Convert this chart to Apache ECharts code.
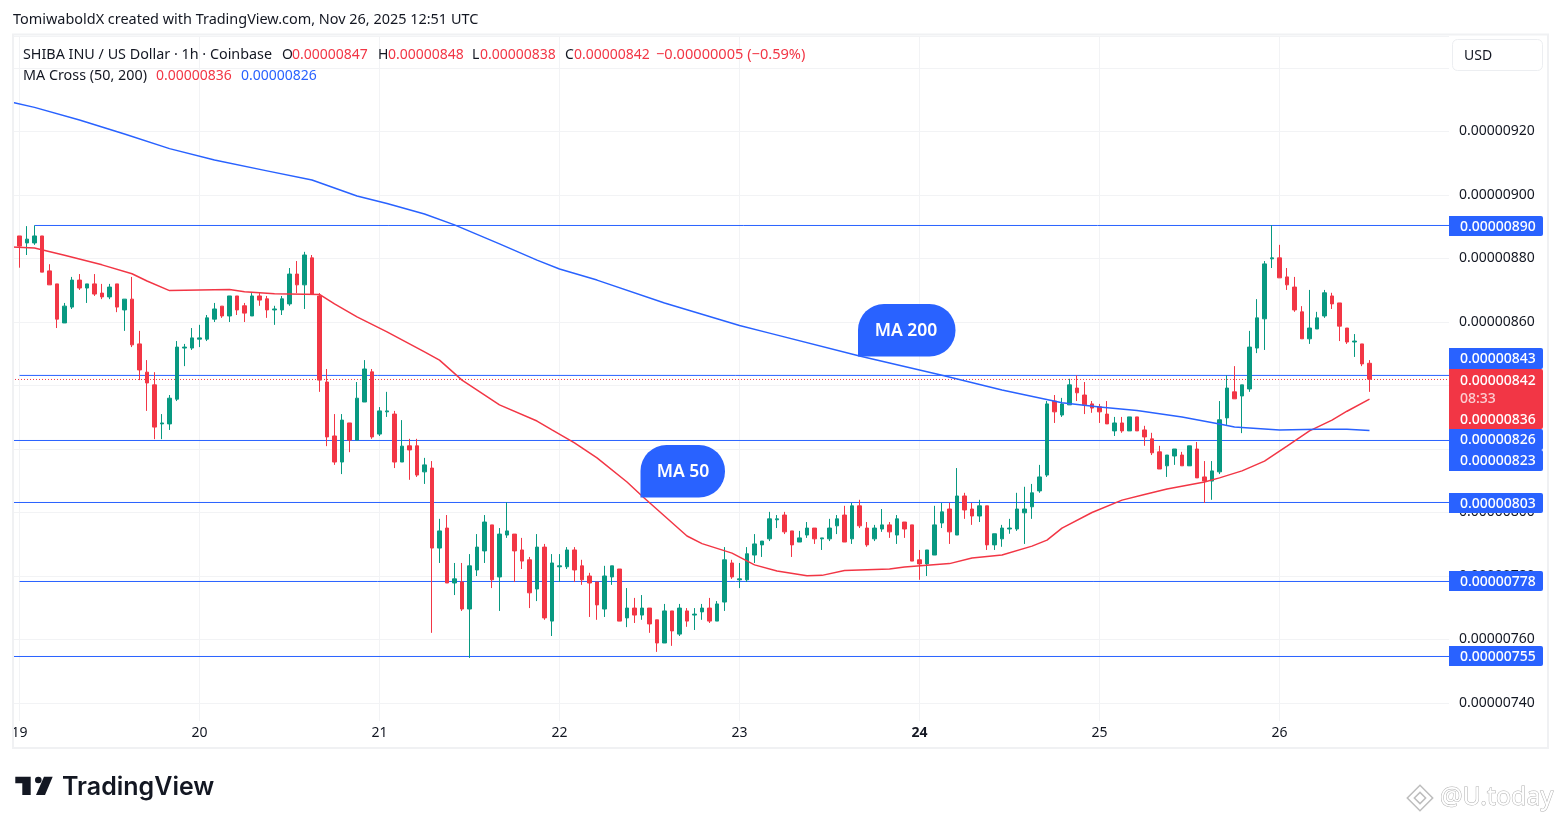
<!DOCTYPE html>
<html>
<head>
<meta charset="utf-8">
<title>SHIBA INU / US Dollar</title>
<script src="https://cdn.jsdelivr.net/npm/echarts@6/dist/echarts.min.js"></script>
<style>
  html, body { margin: 0; padding: 0; background: #fff; }
  #chart { width: 1561px; height: 824px; }
</style>
</head>
<body>
<div id="chart"></div>
<script>
// all prices are in units of 0.00000001 USD, one bar per hour
const opens = [
  890.2,887.1,884.9,884.9,887.1,876.1,872.0,859.7,864.7,873.2,
  870.7,872.0,869.1,867.9,872.0,863.8,867.2,853.1,844.2,840.2,
  827.9,827.9,835.7,851.8,851.8,854.6,854.6,860.9,865.0,861.9,
  868.2,865.1,861.9,868.2,867.3,863.8,863.8,865.7,875.1,871.7,
  880.2,868.2,841.1,824.1,815.9,828.2,822.8,834.8,844.3,824.7,
  831.7,831.0,815.9,821.0,821.0,812.8,814.0,788.8,795.1,777.8,
  778.1,769.6,781.9,787.9,796.1,779.7,792.9,793.2,788.2,785.1,
  775.9,789.1,765.8,782.9,782.9,788.2,783.2,780.0,778.1,769.6,
  779.7,782.2,766.8,769.9,767.7,769.9,766.2,758.9,769.0,761.7,
  769.0,767.7,768.7,769.9,765.8,771.8,784.1,778.8,778.8,786.6,
  789.8,791.7,797.7,799.2,794.2,790.7,792.9,795.1,791.7,791.7,
  795.8,799.2,791.7,802.1,795.1,791.7,794.8,796.1,792.9,797.0,
  796.1,785.1,783.8,786.6,796.7,801.1,792.9,805.2,801.1,798.9,
  802.1,789.8,791.7,794.8,794.8,799.9,801.8,806.8,811.8,835.1,
  830.7,833.9,839.2,837.0,834.2,833.3,831.0,825.7,828.2,825.7,
  830.1,826.0,823.2,819.1,814.7,817.8,818.1,814.7,820.0,811.2,
  809.9,812.8,829.8,838.0,836.7,838.9,851.8,861.0,879.9,880.2,
  874.2,871.0,863.2,854.7,857.8,861.9,868.2,866.0,858.1,853.7,
  853.1,847.0
];
const closes = [
  886.9,883.9,886.1,887.1,875.7,871.7,860.9,865.0,873.2,870.7,
  872.0,868.8,867.9,871.0,864.7,867.2,852.8,844.9,840.8,826.9,
  828.2,836.0,852.1,852.1,855.0,855.0,861.3,864.1,861.9,868.2,
  863.8,862.8,868.2,866.9,863.8,864.1,867.3,875.1,871.7,881.1,
  868.8,841.7,823.8,815.9,829.1,822.8,836.0,845.2,823.8,832.0,
  832.0,815.9,820.9,819.7,811.8,815.0,788.8,794.2,777.8,779.1,
  769.6,783.2,789.1,797.0,778.8,793.2,794.2,787.9,784.7,774.7,
  789.1,766.8,784.1,783.2,788.2,781.9,778.8,777.8,770.9,780.0,
  783.2,765.8,769.9,767.7,769.9,764.9,758.9,769.0,762.7,769.9,
  765.8,768.0,769.9,765.8,771.2,785.1,779.7,779.1,787.0,790.1,
  791.0,798.0,798.0,793.9,789.8,792.0,795.1,791.7,792.0,795.1,
  798.0,790.7,802.1,795.8,789.8,795.1,796.1,793.9,798.0,794.8,
  784.7,783.8,788.2,796.1,800.2,793.9,805.2,800.8,798.9,802.1,
  789.8,793.3,795.1,795.1,801.1,801.1,806.2,811.2,834.2,831.7,
  834.2,840.2,837.7,833.9,832.9,831.7,827.9,828.2,825.7,830.1,
  825.7,823.8,818.8,813.7,818.1,820.0,814.7,821.0,810.9,809.9,
  813.1,829.2,839.2,835.8,840.2,852.1,861.3,878.3,880.2,873.9,
  871.7,863.8,854.7,858.1,861.3,869.2,865.7,858.7,853.7,854.0,
  846.8,842.0
];
const highs = [
  890.2,887.1,890.2,890.4,887.1,878.2,872.0,866.0,874.2,875.1,
  872.0,875.1,872.0,872.0,872.0,867.2,874.2,857.2,848.0,844.2,
  831.0,837.0,854.0,853.1,858.1,859.1,862.2,866.0,865.0,868.2,
  868.2,866.0,869.1,869.1,868.2,865.1,868.2,877.0,879.2,882.1,
  881.1,869.1,845.2,831.0,831.0,828.2,841.1,848.0,845.2,833.2,
  838.0,832.0,829.1,823.2,823.2,817.2,816.2,798.0,799.2,784.1,
  784.1,786.9,793.2,799.2,796.1,795.1,803.2,793.2,792.0,786.0,
  793.2,790.1,786.9,786.9,789.1,789.1,785.1,781.0,778.1,783.2,
  783.2,782.2,776.2,773.1,774.0,769.9,766.2,771.2,769.0,771.2,
  769.9,769.9,771.2,773.1,772.1,789.1,785.1,784.1,789.1,793.2,
  791.0,800.2,799.2,800.2,794.2,794.2,797.0,795.1,792.0,798.0,
  799.2,802.1,803.0,804.0,797.0,796.1,801.1,797.0,799.2,797.0,
  796.1,788.2,788.2,802.1,803.0,803.0,814.0,806.2,803.0,804.0,
  802.1,793.3,796.1,798.0,806.2,808.1,809.0,815.0,835.1,837.0,
  836.1,842.1,843.2,841.1,835.1,834.2,835.1,830.1,830.1,830.1,
  830.1,827.3,825.1,821.0,818.1,820.0,819.1,821.0,822.2,816.2,
  816.2,835.1,843.2,846.1,840.2,857.2,867.2,879.2,890.5,884.3,
  877.0,874.2,865.0,870.1,863.2,870.1,869.2,866.0,858.1,856.2,
  853.1,848.0
];
const lows = [
  886.9,877.1,881.1,884.3,875.7,871.7,858.1,859.7,864.1,870.1,
  866.0,868.2,867.2,867.2,863.1,857.2,852.1,841.7,832.0,823.1,
  823.1,826.0,835.1,846.1,851.2,852.1,854.0,860.0,861.3,860.0,
  862.2,860.0,861.9,865.1,861.3,859.1,862.2,865.1,869.1,864.1,
  868.5,838.0,820.9,815.0,812.1,819.0,822.8,834.8,823.2,824.1,
  830.1,814.0,815.9,810.3,811.2,809.0,762.1,784.1,777.8,774.0,
  769.0,754.2,780.0,784.1,776.2,769.0,792.0,778.1,782.2,769.9,
  772.1,766.2,761.1,778.1,782.2,778.1,777.2,767.1,766.2,767.1,
  777.2,765.8,763.9,765.2,766.2,762.1,756.1,758.9,758.0,761.1,
  764.0,763.0,766.2,765.2,765.8,769.0,779.1,776.2,778.1,784.1,
  786.0,791.0,795.1,793.2,786.0,790.7,792.0,790.1,788.2,791.0,
  793.2,790.7,790.1,795.1,789.2,791.0,793.9,792.0,790.1,792.0,
  784.7,778.8,780.0,786.6,795.1,790.1,792.9,798.0,796.1,797.0,
  788.2,788.2,789.2,793.3,794.2,790.1,798.0,806.2,811.2,828.2,
  830.1,833.9,835.1,831.0,831.4,828.2,827.9,824.1,825.1,825.7,
  825.7,821.0,818.1,813.7,811.2,815.0,814.7,814.7,810.9,803.0,
  804.0,812.1,827.6,835.8,825.0,838.0,850.2,851.2,877.0,873.9,
  870.1,863.2,854.7,853.1,857.8,861.3,864.1,854.0,853.1,849.0,
  846.1,838.0
];

const ma50Bars = [0,3,7,12,16,18,21,29,31,35,41,43,46,50,55,57,60,65,70,72,75,78,82,84,87,90,92,96,99,102,106,108,111,117,119,125,128,132,136,138,140,144,148,151,154,159,161,164,167,170,173,176,178,181];
const ma50Values = [883.6,883.3,881.0,878.0,875.2,872.9,869.9,870.2,869.5,868.9,868.7,865.7,861.6,856.9,850.6,848.0,841.7,833.9,828.8,826.0,821.9,817.2,809.6,805.2,798.9,792.6,790.2,787.2,783.5,781.6,780.1,780.2,781.7,782.2,782.8,783.9,785.7,786.6,789.4,791.3,795.1,800.0,803.9,805.7,807.4,809.6,810.9,813.1,816.2,820.9,825.7,829.1,831.9,835.7];
const ma200Bars = [0,3,9,15,21,27,34,40,46,50,55,59,65,70,73,78,87,97,101,113,124,132,140,145,150,156,161,163,169,174,178,181];
const ma200Values = [929.2,927.6,923.6,919.2,914.6,911.0,907.6,904.7,899.7,897.3,894.0,890.6,884.6,879.5,876.7,873.2,866.0,858.9,856.5,849.3,843.2,838.6,834.6,833.2,832.1,830.1,827.9,826.9,826.0,826.2,826.2,825.8];

// horizontal levels drawn on the chart and the bar each one starts at
const levelValues = [890.4, 843.17, 822.68, 803.15, 778.27, 754.65];
const levelStartBars = [3, 1, 0, 0, 1, 0];
const lastPrice = 841.9;

const priceTickLabels = ['0.00000740','0.00000760','0.00000780','0.00000800','0.00000820','0.00000840','0.00000860','0.00000880','0.00000900','0.00000920'];
const dayLabels = ['19','20','21','22','23','24','25','26'];

const BAR_SLOTS = 193;
const FONT = '"Noto Sans", sans-serif';
const RED = '#f23645', GREEN = '#089981', BLUE = '#2962ff', INK = '#131722', GRID = '#f2f3f5';

const categories = [];
for (let i = 0; i < BAR_SLOTS; i++) {
  const h = i - 1;
  categories.push('Nov ' + (19 + Math.floor(h / 24)) + ' ' + ((h % 24 + 24) % 24) + ':00');
}
const isDayTick = i => (i - 1) % 24 === 0;

const candles = opens.map((o, i) => [o, closes[i], lows[i], highs[i]]);
const pairs = (bars, values) => bars.map((b, i) => [b, values[i]]);

const levelSeries = levelValues.map((v, i) => ({
  type: 'line', xAxisIndex: 1, yAxisIndex: 1, z: 1, symbol: 'none', silent: true,
  lineStyle: { color: BLUE, width: 1 },
  data: [[levelStartBars[i], v], [BAR_SLOTS - 1, v]]
}));

// price tags in the right hand scale
const TAG_X = 1449, TAG_W = 94;
const blueTags = [
  ['0.00000890', 216, 20], ['0.00000843', 348, 21], ['0.00000826', 429, 21],
  ['0.00000823', 450, 21], ['0.00000803', 493, 20], ['0.00000778', 571, 20], ['0.00000755', 646, 20]
];
const tagText = (s, y, fill) => ({
  type: 'text', z: 21, x: 1460, y: y + 1, style: { text: s, fill: fill || '#fff', font: '500 14px ' + FONT, verticalAlign: 'middle' }
});
const plainText = (s, x, y, fill, size) => ({
  type: 'text', z: 21, x, y: y + 1, style: { text: s, fill, font: (size || 14) + 'px ' + FONT, verticalAlign: 'middle' }
});

const graphics = [
  { type: 'rect', z: 5, shape: { x: 0, y: 30, width: 13, height: 700 }, style: { fill: '#fff' } },
  { type: 'rect', z: 5, shape: { x: 1449, y: 30, width: 4, height: 700 }, style: { fill: '#fff' } },
  { type: 'rect', z: 6, shape: { x: 13, y: 34.5, width: 1535, height: 713.5 }, style: { fill: 'none', stroke: '#f0f1f3', lineWidth: 2 } },
  plainText('TomiwaboldX created with TradingView.com, Nov 26, 2025 12:51 UTC', 13, 19, INK, 14.45),
  plainText('SHIBA INU / US Dollar · 1h · Coinbase', 23, 54, INK, 14.35),
  plainText('O', 282, 54, INK), plainText('0.00000847', 292, 54, RED),
  plainText('H', 378, 54, INK), plainText('0.00000848', 388, 54, RED),
  plainText('L', 472, 54, INK), plainText('0.00000838', 480, 54, RED),
  plainText('C', 565, 54, INK), plainText('0.00000842', 574, 54, RED),
  plainText('−0.00000005 (−0.59%)', 656, 54, RED, 14.6),
  plainText('MA Cross (50, 200)', 23, 75, INK, 14.35),
  plainText('0.00000836', 156, 75, RED), plainText('0.00000826', 241, 75, BLUE),
  { type: 'rect', z: 20, shape: { x: 1452.5, y: 39.5, width: 90, height: 31, r: 5 }, style: { fill: '#fff', stroke: '#eceef1' } },
  plainText('USD', 1464, 55, INK),
  { type: 'rect', z: 20, shape: { x: TAG_X, y: 369, width: TAG_W, height: 60, r: [0, 2, 2, 0] }, style: { fill: RED } },
  tagText('0.00000842', 380), tagText('08:33', 398, 'rgba(255,255,255,0.75)'), tagText('0.00000836', 419),
  { type: 'rect', z: 20, shape: { x: 858, y: 304, width: 97.5, height: 52.5, r: [26, 26, 26, 0] }, style: { fill: BLUE } },
  { type: 'text', z: 21, x: 906, y: 331, style: { text: 'MA 200', fill: '#fff', font: '600 17.5px ' + FONT, align: 'center', verticalAlign: 'middle' } },
  { type: 'rect', z: 20, shape: { x: 640.5, y: 445, width: 84.5, height: 52.5, r: [26, 26, 26, 0] }, style: { fill: BLUE } },
  { type: 'text', z: 21, x: 683, y: 472, style: { text: 'MA 50', fill: '#fff', font: '600 17.5px ' + FONT, align: 'center', verticalAlign: 'middle' } },
  // TradingView logo
  { type: 'polygon', z: 20, shape: { points: [[15.3,776.7],[30.7,776.7],[30.7,795],[22.3,795],[22.3,783.3],[15.3,783.3]] }, style: { fill: INK } },
  { type: 'circle', z: 20, shape: { cx: 38.3, cy: 780, r: 3.3 }, style: { fill: INK } },
  { type: 'polygon', z: 20, shape: { points: [[44,776.7],[52.7,776.7],[45,795],[36,795]] }, style: { fill: INK } },
  { type: 'text', z: 21, x: 62, y: 787, style: { text: 'TradingView', fill: INK, font: '600 25px Inter, sans-serif', verticalAlign: 'middle' } },
  // watermark
  { type: 'rect', z: 20, rotation: Math.PI / 4, x: 1420, y: 798, shape: { x: -9, y: -9, width: 18, height: 18 }, style: { fill: 'none', stroke: '#bdbdbd', lineWidth: 1.5 } },
  { type: 'rect', z: 20, rotation: Math.PI / 4, x: 1420, y: 798, shape: { x: -4, y: -4, width: 8, height: 8 }, style: { fill: 'none', stroke: '#bdbdbd', lineWidth: 1.5 } },
  { type: 'text', z: 21, x: 1440, y: 798, style: { text: '@U.today', fill: '#fff', stroke: '#b0b0b0', lineWidth: 1, font: '25px ' + FONT, verticalAlign: 'middle' } }
];
blueTags.forEach(t => {
  graphics.push({ type: 'rect', z: 20, shape: { x: TAG_X, y: t[1], width: TAG_W, height: t[2], r: [0, 2, 2, 0] }, style: { fill: BLUE } });
  graphics.push(tagText(t[0], t[1] + t[2] / 2));
});

const chart = echarts.init(document.getElementById('chart'));
chart.setOption({
  animation: false,
  backgroundColor: '#fff',
  // outer grid only carries the time scale, inner one the candles
  grid: [
    { left: 12, right: 109, top: 36.25, bottom: 103 },
    { left: 12, right: 109, top: 36.25, bottom: 121 }
  ],
  xAxis: [
    {
      gridIndex: 0, type: 'category', data: categories, boundaryGap: false,
      axisLine: { show: false }, axisTick: { show: false },
      splitLine: { show: true, interval: isDayTick, lineStyle: { color: GRID, width: 1 } },
      axisLabel: {
        interval: isDayTick, margin: 5, fontFamily: FONT, fontSize: 14, color: INK,
        formatter: (v, i) => {
          const d = dayLabels[(i - 1) / 24];
          return d === '24' ? '{bold|' + d + '}' : d;
        },
        rich: { bold: { fontWeight: 'bold', fontFamily: FONT, fontSize: 14, color: INK } }
      }
    },
    {
      gridIndex: 1, type: 'category', data: categories, boundaryGap: false, show: false
    }
  ],
  yAxis: [
    { gridIndex: 0, type: 'value', min: 0, max: 1, show: false },
    {
      gridIndex: 1, type: 'value', position: 'right', min: 740, max: 950, interval: 20,
      axisLine: { show: false }, axisTick: { show: false },
      splitLine: { lineStyle: { color: GRID, width: 1 } },
      axisLabel: {
        margin: 7, fontFamily: FONT, fontSize: 14, color: INK, align: 'left', padding: [2, 0, 0, 0],
        formatter: v => { const s = '0.00000' + v; return priceTickLabels.includes(s) ? s : ''; }
      }
    }
  ],
  series: [
    ...levelSeries,
    {
      type: 'line', xAxisIndex: 1, yAxisIndex: 1, z: 1, symbol: 'none', silent: true,
      lineStyle: { color: RED, width: 1, type: [1, 2] },
      data: [[0, lastPrice], [BAR_SLOTS - 1, lastPrice]]
    },
    {
      type: 'candlestick', xAxisIndex: 1, yAxisIndex: 1, z: 2, barWidth: 4, clip: true,
      itemStyle: { color: GREEN, color0: RED, borderColor: GREEN, borderColor0: RED, borderWidth: 1 },
      data: candles
    },
    {
      type: 'line', xAxisIndex: 1, yAxisIndex: 1, z: 3, symbol: 'none', silent: true,
      lineStyle: { color: RED, width: 1.5 }, data: pairs(ma50Bars, ma50Values)
    },
    {
      type: 'line', xAxisIndex: 1, yAxisIndex: 1, z: 3, symbol: 'none', silent: true,
      lineStyle: { color: BLUE, width: 1.5 }, data: pairs(ma200Bars, ma200Values)
    }
  ],
  graphic: { elements: graphics }
});
</script>
</body>
</html>
